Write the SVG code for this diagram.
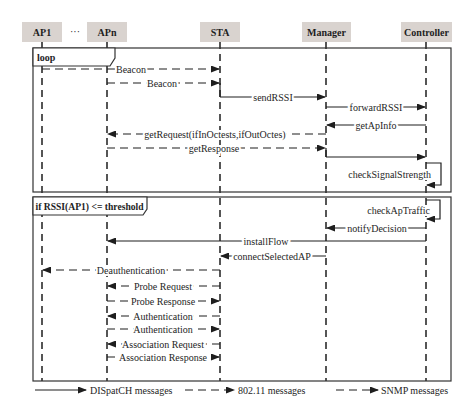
<svg xmlns="http://www.w3.org/2000/svg" width="474" height="419" viewBox="0 0 474 419">
<defs>
<marker id="ah" markerUnits="userSpaceOnUse" markerWidth="9" markerHeight="7" refX="8" refY="3.5" orient="auto">
<path d="M0,0 L9,3.5 L0,7 Z" fill="#1e1e1e"/>
</marker>
<style>
.hdr{fill:#d9d3cf}
.ht{font-family:"Liberation Serif",serif;font-size:10px;font-weight:bold;fill:#1e1e1e;text-anchor:middle}
.life{stroke:#1e1e1e;stroke-width:1.5;stroke-dasharray:7 5;fill:none}
.frame{stroke:#333;stroke-width:1.2;fill:none}
.tag{stroke:#333;stroke-width:1.2;fill:#fff}
.ft{font-family:"Liberation Serif",serif;font-size:10px;font-weight:bold;fill:#1e1e1e}
.sol{stroke:#1e1e1e;stroke-width:1.2;fill:none}
.das{stroke:#1e1e1e;stroke-width:1.2;fill:none;stroke-dasharray:8 5}
.arr{marker-end:url(#ah)}
.lb{font-family:"Liberation Serif",serif;font-size:10px;fill:#1e1e1e;text-anchor:middle;stroke:#fff;stroke-width:4;paint-order:stroke}
.lg{font-family:"Liberation Serif",serif;font-size:10px;fill:#1e1e1e}
</style>
</defs>
<rect width="474" height="419" fill="#fff"/>

<g id="node-AP1">
<rect class="hdr" x="22" y="22" width="40" height="20"/>
<text class="ht" x="42" y="35.5">AP1</text>
<line class="life" x1="42" y1="42" x2="42" y2="381"/>
</g>
<g id="node-dots">
<text class="ht" x="75" y="35" style="font-weight:normal">···</text>
</g>
<g id="node-APn">
<rect class="hdr" x="87" y="22" width="40" height="20"/>
<text class="ht" x="107" y="35.5">APn</text>
<line class="life" x1="107" y1="42" x2="107" y2="381"/>
</g>
<g id="node-STA">
<rect class="hdr" x="200" y="22" width="40" height="20"/>
<text class="ht" x="220" y="35.5">STA</text>
<line class="life" x1="220" y1="42" x2="220" y2="381"/>
</g>
<g id="node-Manager">
<rect class="hdr" x="302" y="22" width="49" height="20"/>
<text class="ht" x="326.5" y="35.5">Manager</text>
<line class="life" x1="326" y1="42" x2="326" y2="381"/>
</g>
<g id="node-Controller">
<rect class="hdr" x="401" y="22" width="51" height="20"/>
<text class="ht" x="426.5" y="35.5">Controller</text>
<line class="life" x1="426" y1="42" x2="426" y2="381"/>
</g>

<g id="frames">
<rect class="frame" x="33" y="48" width="418" height="144"/>
<path class="tag" d="M33,48 H115 V58 L110,66 H33 Z"/>
<text class="ft" x="37" y="61">loop</text>
<rect class="frame" x="33" y="197" width="418" height="184"/>
<path class="tag" d="M33,197 H147 V209 L143,215 H33 Z"/>
<text class="ft" x="35.5" y="210" style="font-size:9.6px">if RSSI(AP1) &lt;= threshold</text>
</g>

<g id="connectors">
<line class="das arr" x1="42" y1="69" x2="219" y2="69"/>
<text class="lb" x="131" y="72.5">Beacon</text>
<line class="das arr" x1="107" y1="83" x2="219" y2="83"/>
<text class="lb" x="162" y="86.5">Beacon</text>
<path class="sol" d="M220,83 V97"/>
<line class="sol arr" x1="220" y1="97" x2="325" y2="97"/>
<text class="lb" x="273" y="100.5">sendRSSI</text>
<line class="sol arr" x1="326" y1="107" x2="425" y2="107"/>
<text class="lb" x="376" y="110.5">forwardRSSI</text>
<line class="sol arr" x1="426" y1="125" x2="327" y2="125"/>
<text class="lb" x="376" y="128.5">getApInfo</text>
<line class="das arr" x1="326" y1="134" x2="108" y2="134"/>
<text class="lb" x="215" y="137.5">getRequest(ifInOctests,ifOutOctes)</text>
<line class="das arr" x1="107" y1="148" x2="325" y2="148"/>
<text class="lb" x="214" y="151.5">getResponse</text>
<path class="sol" d="M326,148 V157"/>
<line class="sol arr" x1="326" y1="157" x2="425" y2="157"/>
<path class="sol arr" d="M426,163 H441 V185 H427"/>
<text class="lb" x="431" y="177.5" style="text-anchor:end">checkSignalStrength</text>
<path class="sol arr" d="M426,200 H440 V219 H427"/>
<text class="lb" x="430" y="213.5" style="text-anchor:end">checkApTraffic</text>
<line class="sol arr" x1="426" y1="228" x2="327" y2="228"/>
<text class="lb" x="377" y="231.5">notifyDecision</text>
<line class="sol arr" x1="426" y1="241" x2="108" y2="241"/>
<text class="lb" x="266" y="244.5">installFlow</text>
<line class="sol arr" x1="326" y1="256" x2="221" y2="256"/>
<text class="lb" x="272" y="259.5">connectSelectedAP</text>
<line class="das arr" x1="220" y1="270" x2="43" y2="270"/>
<text class="lb" x="131" y="273.5">Deauthentication</text>
<line class="das arr" x1="220" y1="286" x2="108" y2="286"/>
<text class="lb" x="163" y="289.5">Probe Request</text>
<line class="das arr" x1="107" y1="301" x2="219" y2="301"/>
<text class="lb" x="163" y="304.5">Probe Response</text>
<line class="das arr" x1="220" y1="316" x2="108" y2="316"/>
<text class="lb" x="163" y="319.5">Authentication</text>
<line class="das arr" x1="107" y1="329" x2="219" y2="329"/>
<text class="lb" x="163" y="332.5">Authentication</text>
<line class="das arr" x1="220" y1="344" x2="108" y2="344"/>
<text class="lb" x="163" y="347.5">Association Request</text>
<line class="das arr" x1="107" y1="357" x2="219" y2="357"/>
<text class="lb" x="163" y="360.5">Association Response</text>
</g>

<g id="legend">
<line class="sol arr" x1="35" y1="390" x2="86" y2="390"/>
<text class="lg" x="90" y="393.5">DISpatCH messages</text>
<line class="das arr" x1="185" y1="390" x2="234" y2="390"/>
<text class="lg" x="238" y="393.5">802.11 messages</text>
<line class="das arr" x1="336" y1="390" x2="378" y2="390"/>
<text class="lg" x="381" y="393.5">SNMP messages</text>
</g>
</svg>
